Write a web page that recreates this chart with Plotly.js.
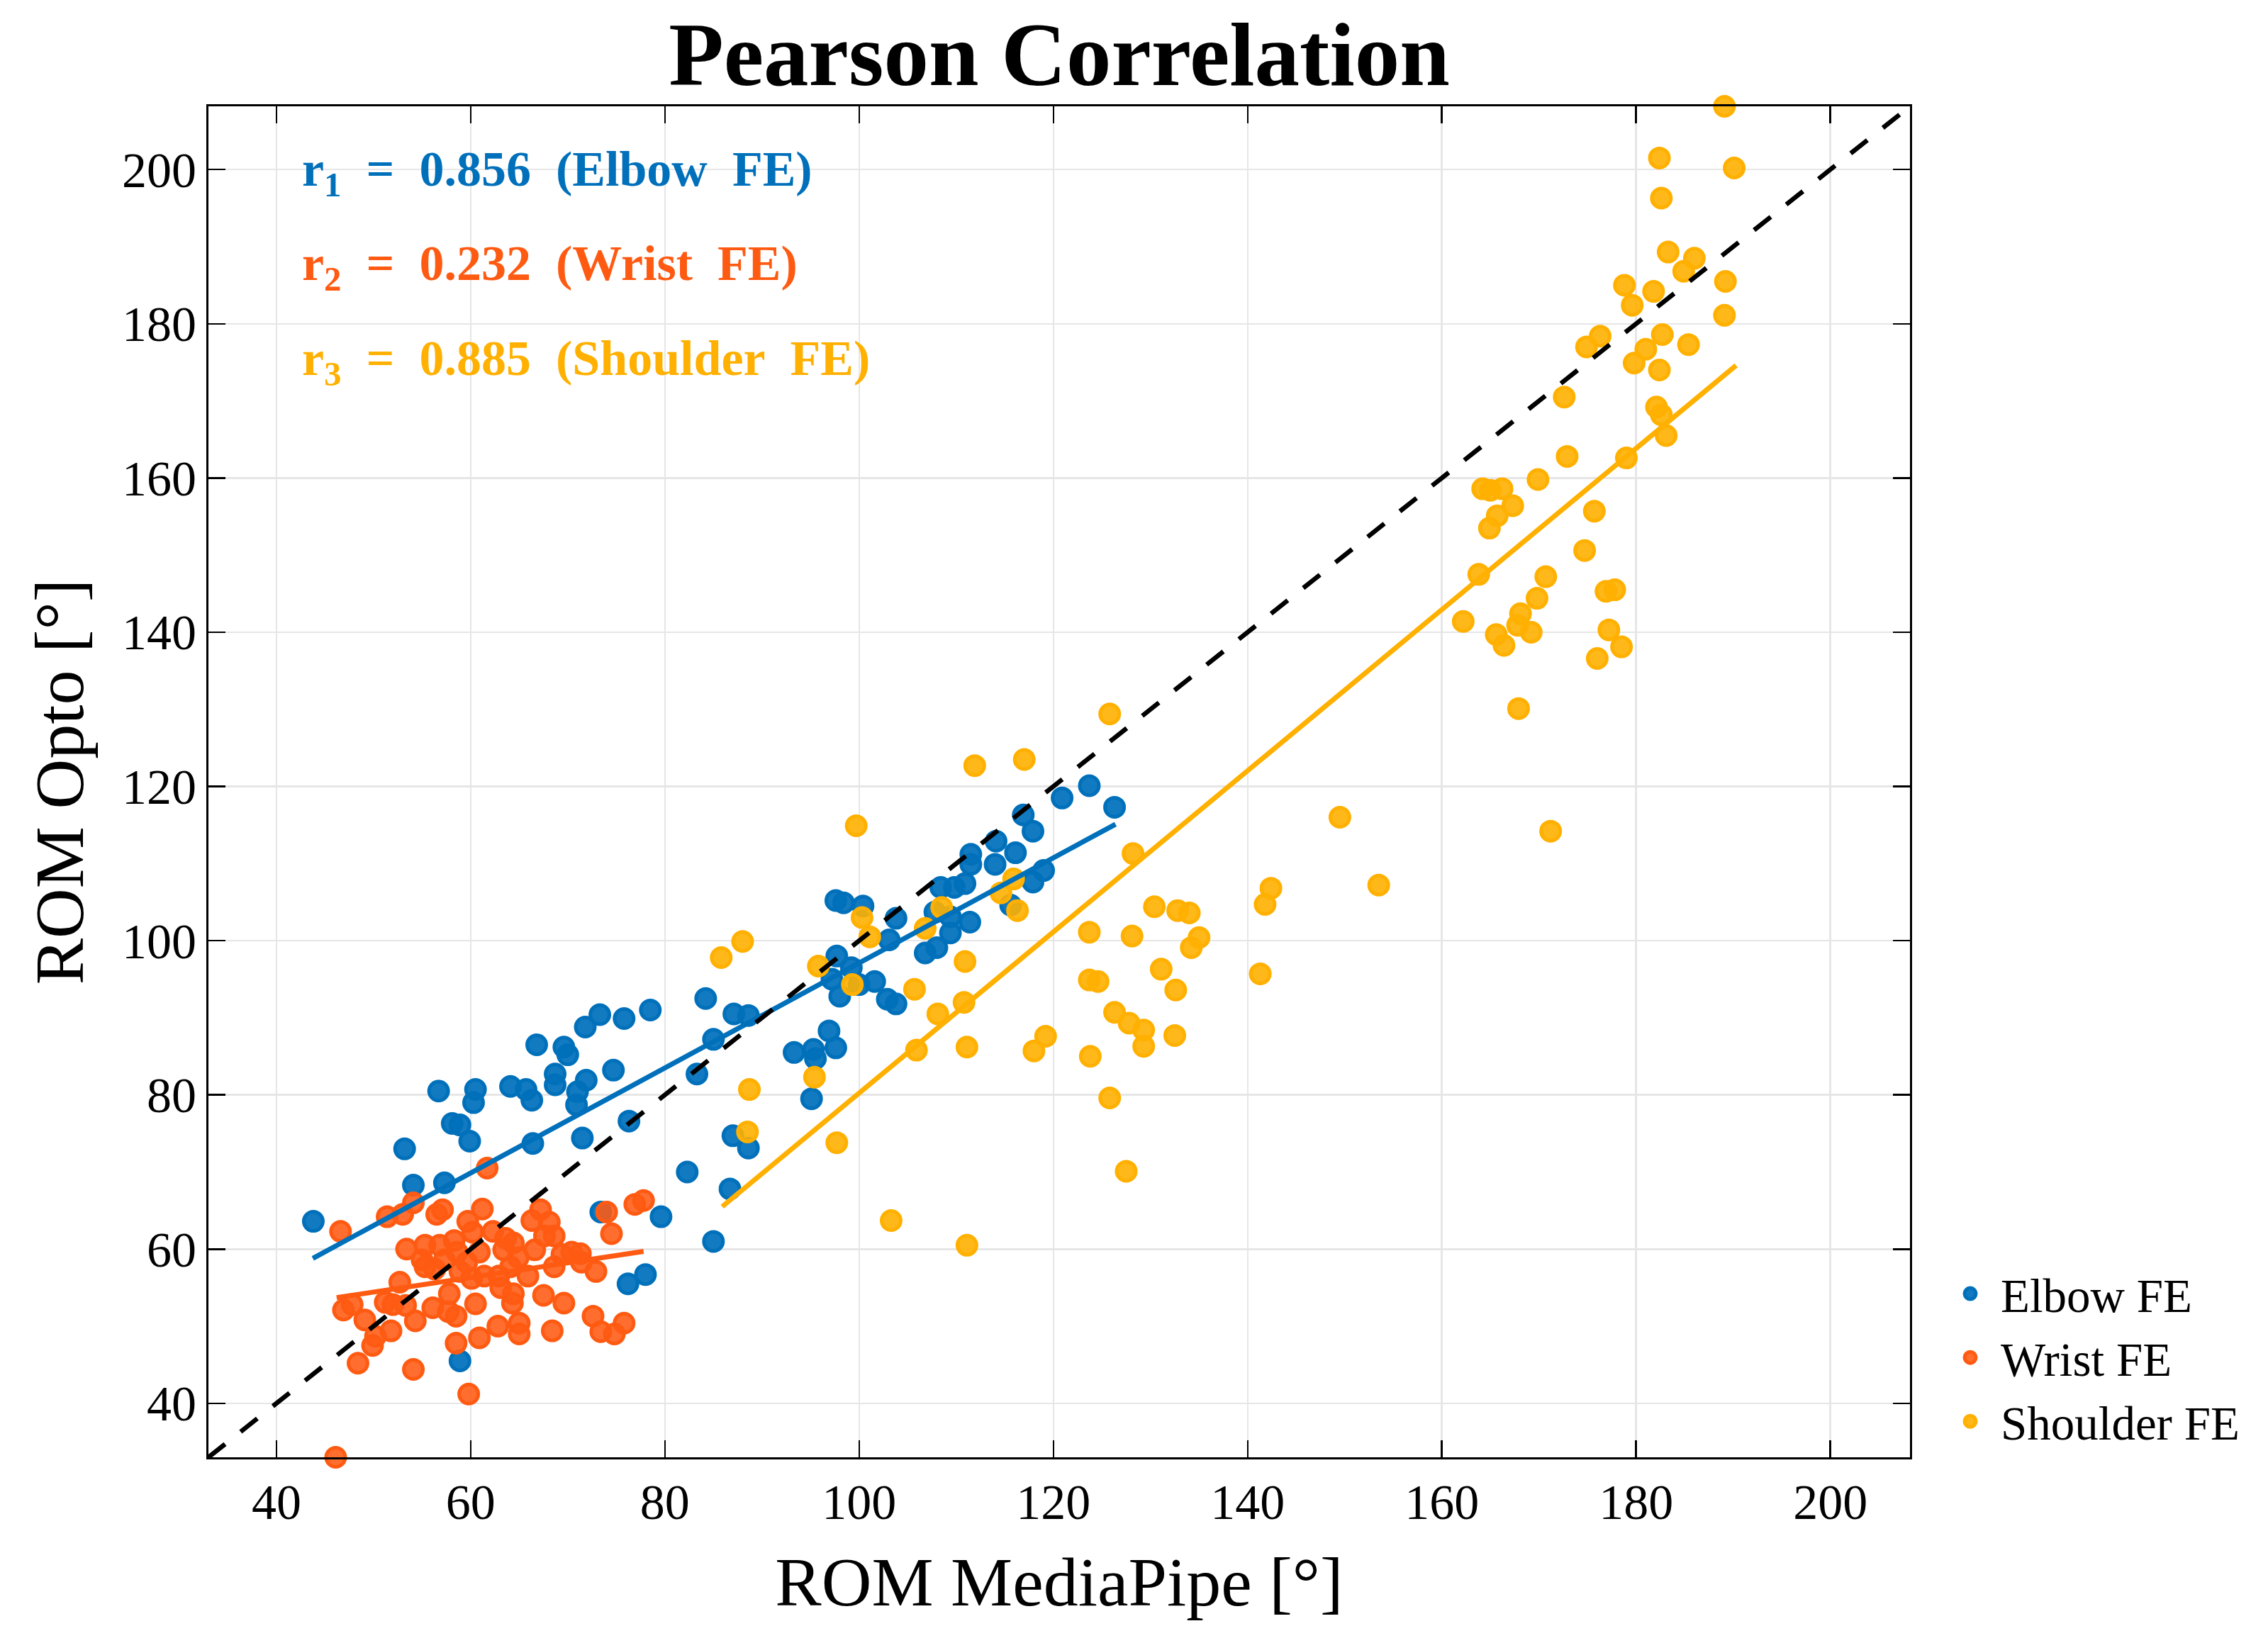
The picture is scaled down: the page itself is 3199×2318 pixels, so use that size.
<!DOCTYPE html>
<html>
<head>
<meta charset="utf-8">
<script src="https://cdn.plot.ly/plotly-3.0.1.min.js"></script>
<style>
  html, body { margin: 0; padding: 0; background: #ffffff; }
  #chart { width: 3199px; height: 2318px; }
</style>
</head>
<body>
<div id="chart"></div>
<script>
// ---------------- data ----------------
const seriesNames = ["Elbow FE", "Wrist FE", "Shoulder FE"];

const elbowX = [43.8,53.2,54.1,57.3,56.7,58.1,58.9,59.9,60.5,60.3,64.1,65.7,66.3,66.8,66.4,69.6,70.0,68.7,68.7,71.9,71.0,70.9,71.8,73.3,75.8,78.5,74.7,71.5,76.3,82.3,79.6,73.4,78.0,76.2,58.9,83.3,84.2,87.1,88.6,85.0,87.0,88.6,86.7,85.0,96.9,97.6,93.3,95.3,95.5,95.1,97.6,98.4,100.4,97.7,99.2,98.0,97.2,100.0,101.6,102.9,103.8,103.8,103.1,106.8,108.0,107.8,109.4,109.4,111.4,108.4,109.8,110.9,111.5,111.5,114.1,114.0,116.1,115.6,117.9,119.0,116.9,117.9,120.9,123.7,126.3];
const elbowY = [63.6,73.0,68.3,68.6,80.5,76.3,76.1,74.0,80.7,79.0,81.1,80.7,79.3,86.5,73.7,86.2,85.2,82.7,81.3,81.9,80.4,78.7,88.8,90.4,89.9,91.0,83.2,74.4,76.6,70.0,64.2,64.8,56.7,55.5,45.5,82.7,92.5,90.5,90.3,87.2,74.7,73.1,67.8,61.0,88.3,86.1,85.5,85.9,84.7,79.5,105.2,104.9,104.5,98.0,96.5,92.8,95.0,94.3,94.7,92.4,91.8,102.9,100.1,98.4,99.1,103.7,103.1,101.0,102.4,106.9,106.9,107.4,111.2,109.9,112.9,109.9,111.4,104.6,107.6,109.1,116.3,114.2,118.5,120.1,117.3];

const wristX = [46.6,51.4,53.0,54.1,56.5,57.1,61.7,61.2,59.7,60.2,53.4,55.3,56.8,58.3,55.0,55.3,56.3,57.3,58.6,59.6,60.9,62.3,63.6,64.4,63.4,64.9,64.1,62.9,61.4,60.1,58.9,63.1,65.9,67.2,66.3,68.1,68.6,67.6,66.6,68.6,69.4,70.4,71.3,71.4,72.9,74.0,74.5,76.9,77.8,67.5,69.6,72.6,73.4,74.8,75.8,68.4,65.0,65.0,62.8,60.9,64.3,64.4,60.5,58.5,57.8,57.7,58.5,56.1,54.3,53.3,52.0,51.2,52.7,47.8,46.9,49.1,51.8,50.2,49.9,48.4,54.1,59.8,46.1];
const wristY = [62.3,64.2,64.5,66.0,64.5,65.1,70.5,65.2,63.6,62.2,60.0,60.5,60.5,61.1,58.6,57.7,57.4,58.6,59.6,58.3,59.6,62.3,61.4,60.8,59.9,58.9,57.7,56.5,56.5,56.2,57.1,55.0,56.5,65.1,63.7,63.5,61.7,61.7,59.9,57.7,59.3,59.6,59.4,58.3,57.1,64.8,62.0,65.8,66.3,54.0,53.0,51.3,49.3,49.0,50.4,49.4,50.4,49.0,50.0,48.5,53.0,54.2,52.9,47.8,54.2,51.9,51.3,52.4,50.7,52.7,52.8,53.1,55.7,52.8,52.1,50.8,49.4,48.7,47.5,45.2,44.4,41.2,33.0];

const shoulderX = [85.8,88.0,88.7,88.5,95.4,95.8,97.7,99.3,99.7,100.3,101.1,103.3,105.7,105.9,106.8,108.1,108.5,110.8,110.9,111.1,111.1,111.9,114.6,115.9,116.3,117.0,118.0,119.2,123.7,123.7,124.6,123.8,125.8,125.8,126.3,127.5,127.8,128.1,128.2,129.3,129.3,130.4,131.1,132.5,132.6,132.8,134.0,134.2,135.0,141.3,141.8,142.4,149.5,153.5,171.2,189.1,182.4,190.1,182.6,183.3,186.0,184.9,189.2,178.8,181.8,179.6,189.1,176.3,174.9,182.7,181.0,179.8,182.4,185.4,172.6,182.1,182.6,183.1,172.9,179.0,169.9,164.2,165.0,166.2,167.3,165.7,164.9,175.7,174.7,163.8,170.7,169.8,162.2,176.9,177.8,168.1,167.8,165.6,166.4,169.2,177.2,178.5,176.0,167.9];
const shoulderY = [97.8,99.9,80.7,75.2,82.3,96.7,73.8,94.3,114.9,103.0,100.5,63.7,93.7,85.8,101.6,90.5,104.3,92.0,97.3,86.2,60.5,122.7,106.2,108.0,103.9,123.5,85.7,87.6,101.1,94.9,94.7,85.0,79.6,129.4,90.7,70.1,89.3,100.6,111.3,88.4,86.3,104.4,96.3,87.7,93.6,103.9,103.6,99.1,100.4,95.7,104.7,106.8,116.0,107.2,114.2,208.2,201.5,200.2,196.3,189.3,188.5,186.8,185.5,185.0,184.2,182.4,181.1,178.4,177.0,178.6,176.7,174.9,174.0,177.3,170.5,169.2,168.2,165.5,162.8,162.6,159.8,158.6,158.4,158.6,156.4,155.1,153.5,155.7,150.6,147.5,147.2,144.4,141.4,145.3,145.5,142.4,140.9,139.7,138.3,140.0,140.3,138.1,136.6,130.1];

// fitted regression lines, end points
const elbowFitX = [43.75, 126.4];
const elbowFitY = [58.8, 115.1];
const wristFitX = [46.2, 77.8];
const wristFitY = [53.7, 59.7];
const shoulderFitX = [85.9, 190.3];
const shoulderFitY = [65.5, 174.6];

const rLabels = ["r<sub>1</sub>", "r<sub>2</sub>", "r<sub>3</sub>"];
const rValues = ["0.856", "0.232", "0.885"];
const rLabelY = [199.6, 187.3, 175.0];

const tickVals = [40, 60, 80, 100, 120, 140, 160, 180, 200];
const tickText = ["40", "60", "80", "100", "120", "140", "160", "180", "200"];

// ---------------- styling ----------------
const colors = ["#0070BB", "#FF5A12", "#FFB000"];
const fillColors = ["rgba(0,112,187,0.93)", "rgba(255,90,18,0.88)", "rgba(255,176,0,0.9)"];
const FONT = "Liberation Serif, Times New Roman, serif";
const NB = "\u00A0\u00A0";

const xsAll = [elbowX, wristX, shoulderX];
const ysAll = [elbowY, wristY, shoulderY];
const fitXs = [elbowFitX, wristFitX, shoulderFitX];
const fitYs = [elbowFitY, wristFitY, shoulderFitY];
const allVals = [].concat(elbowX, elbowY, wristX, wristY, shoulderX, shoulderY);
const lim = [Math.min(...allVals), Math.max(...allVals)];

const traces = [];
for (let k = 0; k < 3; k++) {
  traces.push({
    type: "scatter", mode: "markers", name: seriesNames[k],
    x: xsAll[k], y: ysAll[k], cliponaxis: false,
    marker: { size: 27, color: fillColors[k], line: { color: colors[k], width: 5 } }
  });
}
for (let k = 0; k < 3; k++) {
  traces.push({
    type: "scatter", mode: "lines", x: fitXs[k], y: fitYs[k], showlegend: false, hoverinfo: "skip",
    line: { color: colors[k], width: 7 }
  });
}
// identity line y = x across the axis limits
traces.push({
  type: "scatter", mode: "lines", x: lim, y: lim, showlegend: false, hoverinfo: "skip",
  line: { color: "#000000", width: 6.5, dash: "30px,28px" }
});

const annotations = [];
for (let k = 0; k < 3; k++) {
  annotations.push({
    xref: "x", yref: "y", x: 42.5, y: rLabelY[k], xanchor: "left", yanchor: "middle",
    showarrow: false,
    text: rLabels[k] + NB + "=" + NB + rValues[k] + NB + "(" + seriesNames[k].replace(" ", NB) + ")",
    font: { family: FONT, size: 70, color: colors[k], weight: "bold" }
  });
}

const axisCommon = {
  range: lim, tickvals: tickVals, ticktext: tickText,
  showline: true, linecolor: "#000000", linewidth: 3, mirror: "ticks",
  ticks: "inside", ticklen: 24, tickwidth: 2.5, tickcolor: "#000000",
  showgrid: true, gridcolor: "#e6e6e6", gridwidth: 2.5, zeroline: false,
  tickfont: { family: FONT, size: 70, color: "#000000" },
  automargin: false
};

const layout = {
  width: 3199, height: 2318,
  paper_bgcolor: "#ffffff", plot_bgcolor: "#ffffff",
  margin: { l: 294, r: 505, t: 150, b: 262 },
  title: {
    text: "Pearson Correlation", x: 0.5, xref: "paper", xanchor: "center",
    y: 1 - 76/2318, yref: "container", yanchor: "middle",
    font: { family: FONT, size: 127, color: "#000000", weight: "bold" }
  },
  xaxis: Object.assign({}, axisCommon, {
    title: { text: "ROM MediaPipe [°]", font: { family: FONT, size: 98, color: "#000000" }, standoff: 40 }
  }),
  yaxis: Object.assign({}, axisCommon, {
    title: { text: "ROM Opto [°]", font: { family: FONT, size: 98, color: "#000000" }, standoff: 22 }
  }),
  legend: {
    x: 1.0175, y: 0, xanchor: "left", yanchor: "bottom",
    itemwidth: 76,
    font: { family: FONT, size: 67, color: "#000000" },
    bgcolor: "rgba(0,0,0,0)", borderwidth: 0, tracegroupgap: 0
  },
  annotations: annotations,
  showlegend: true
};

Plotly.newPlot("chart", traces, layout, { displayModeBar: false, staticPlot: true });
</script>
</body>
</html>
